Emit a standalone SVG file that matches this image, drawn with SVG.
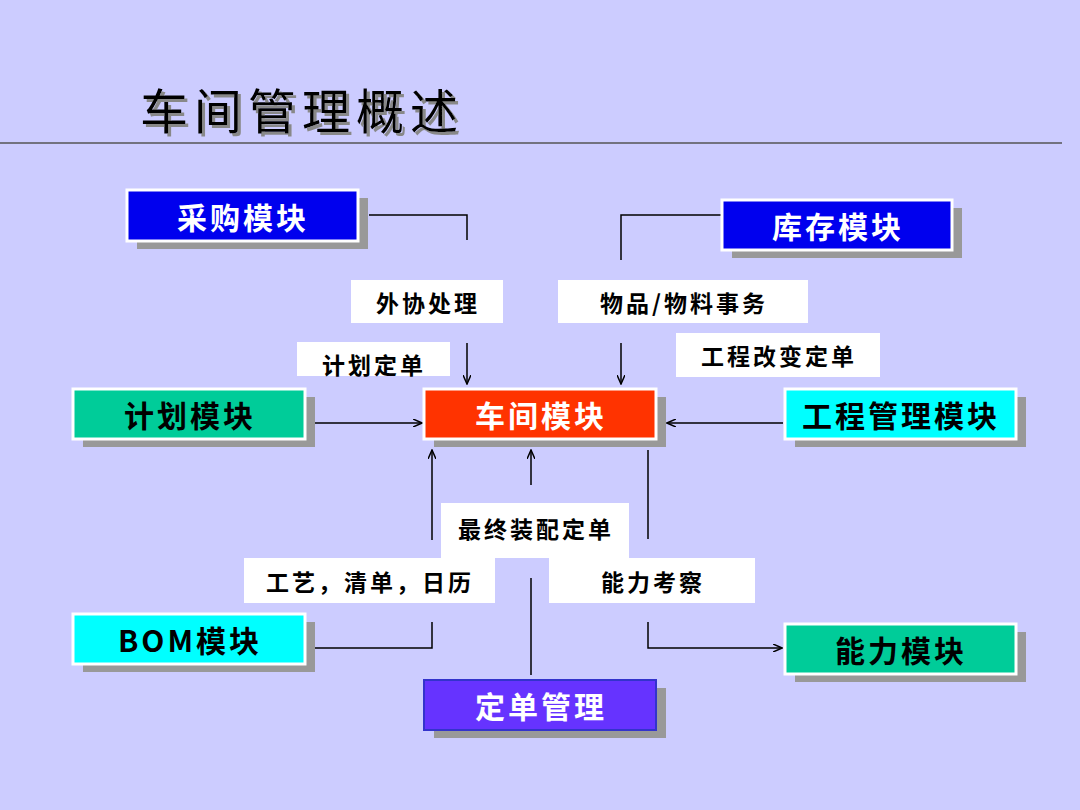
<svg xmlns="http://www.w3.org/2000/svg" width="1080" height="810" viewBox="0 0 1080 810">
<defs>
<marker id="ar" markerWidth="10" markerHeight="8" refX="9" refY="4" orient="auto" markerUnits="userSpaceOnUse"><path d="M0,0 L9,4 L0,8" fill="none" stroke="#000" stroke-width="1.5"/></marker>
<filter id="ds" x="-10%" y="-20%" width="130%" height="150%"><feDropShadow dx="3" dy="3" stdDeviation="0" flood-color="#888"/></filter>
<style>
text{font-family:"Noto Sans CJK SC","Liberation Sans",sans-serif;text-anchor:middle;dominant-baseline:central}
.sh{fill:#999}
.bx{stroke:#fff;stroke-width:3}
.nt{font-size:30px;font-weight:bold;letter-spacing:3px}
.lb{fill:#fff}
.lt{font-size:23px;font-weight:bold;fill:#000;letter-spacing:3px}
.c{stroke:#000;stroke-width:1.5;fill:none}
</style>
</defs>
<rect width="1080" height="810" fill="#CCCCFF"/>
<g id="title">
<text x="302" y="108" filter="url(#ds)" style="font-size:48px;fill:#000;letter-spacing:6px">车间管理概述</text>
<line x1="0" y1="143" x2="1062" y2="143" stroke="#555" stroke-width="1.5"/>
</g>
<g id="connectors">
<polyline class="c" points="369,215 467,215 467,240"/>
<line class="c" x1="467" y1="343" x2="467" y2="384" marker-end="url(#ar)"/>
<polyline class="c" points="721,215 621,215 621,260"/>
<line class="c" x1="621" y1="343" x2="621" y2="384" marker-end="url(#ar)"/>
<line class="c" x1="315" y1="423" x2="422" y2="423" marker-end="url(#ar)"/>
<line class="c" x1="783" y1="423" x2="667" y2="423" marker-end="url(#ar)"/>
<polyline class="c" points="315,648 432,648 432,622"/>
<line class="c" x1="432" y1="540" x2="432" y2="450" marker-end="url(#ar)"/>
<line class="c" x1="531" y1="578" x2="531" y2="675"/>
<line class="c" x1="531" y1="485" x2="531" y2="450" marker-end="url(#ar)"/>
<line class="c" x1="648" y1="450" x2="648" y2="539"/>
<polyline class="c" points="648,622 648,648 782,648" marker-end="url(#ar)"/>
</g>
<g id="lbl-waixie"><rect class="lb" x="351" y="280" width="152" height="43"/><text class="lt" x="428" y="302">外协处理</text></g>
<g id="lbl-wupin"><rect class="lb" x="558" y="280" width="250" height="43"/><text class="lt" x="684" y="302">物品/物料事务</text></g>
<g id="lbl-jihua"><rect class="lb" x="297" y="342" width="153" height="34"/><text class="lt" x="374" y="364">计划定单</text></g>
<g id="lbl-gongcheng"><rect class="lb" x="676" y="333" width="204" height="44"/><text class="lt" x="779" y="355">工程改变定单</text></g>
<g id="lbl-zuizhong"><rect class="lb" x="441" y="503" width="188" height="55"/><text class="lt" x="536" y="528">最终装配定单</text></g>
<g id="lbl-gongyi"><rect class="lb" x="244" y="558" width="251" height="45"/><text class="lt" x="370" y="581">工艺，清单，日历</text></g>
<g id="lbl-nengli"><rect class="lb" x="549" y="558" width="206" height="45"/><text class="lt" x="653" y="581">能力考察</text></g>
<g id="n-caigou"><rect class="sh" x="137" y="198" width="231" height="51"/><rect class="bx" x="127" y="190" width="231" height="51" fill="#0000EE"/><text class="nt" x="243" y="216" fill="#fff">采购模块</text></g>
<g id="n-kucun"><rect class="sh" x="732" y="208" width="230" height="50"/><rect class="bx" x="722" y="200" width="230" height="50" fill="#0000EE"/><text class="nt" x="838" y="225" fill="#fff">库存模块</text></g>
<g id="n-jihua"><rect class="sh" x="83" y="397" width="232" height="50"/><rect class="bx" x="73" y="389" width="232" height="50" fill="#00CC99"/><text class="nt" x="190" y="414" fill="#000">计划模块</text></g>
<g id="n-chejian"><rect class="sh" x="434" y="397" width="232" height="50"/><rect class="bx" x="424" y="389" width="232" height="50" fill="#FF3300"/><text class="nt" x="541" y="414" fill="#fff">车间模块</text></g>
<g id="n-gongcheng"><rect class="sh" x="795" y="397" width="231" height="50"/><rect class="bx" x="785" y="389" width="231" height="50" fill="#00FFFF"/><text class="nt" x="901" y="414" fill="#000">工程管理模块</text></g>
<g id="n-bom"><rect class="sh" x="83" y="622" width="232" height="50"/><rect class="bx" x="73" y="614" width="232" height="50" fill="#00FFFF"/><text class="nt" x="190" y="639" fill="#000">BOM模块</text></g>
<g id="n-nengli"><rect class="sh" x="795" y="632" width="231" height="50"/><rect class="bx" x="785" y="624" width="231" height="50" fill="#00CC99"/><text class="nt" x="901" y="649" fill="#000">能力模块</text></g>
<g id="n-dingdan"><rect class="sh" x="434" y="688" width="232" height="50"/><rect x="424" y="680" width="232" height="50" fill="#6633FF" stroke="#3333CC" stroke-width="2"/><text class="nt" x="541" y="705" fill="#fff">定单管理</text></g>
</svg>
